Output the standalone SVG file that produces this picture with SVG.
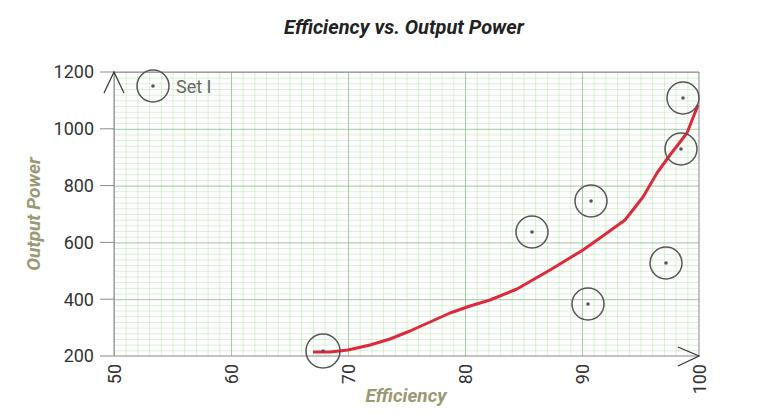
<svg xmlns="http://www.w3.org/2000/svg" width="768" height="420" viewBox="0 0 768 420">
<defs>
<pattern id="minor" x="114" y="72" width="11.7" height="5.68" patternUnits="userSpaceOnUse">
<path d="M0 0V5.68M0 0H11.7" stroke="#a9dc9c" stroke-width="0.9" fill="none"/>
</pattern>
<pattern id="major" x="114" y="72" width="117" height="56.8" patternUnits="userSpaceOnUse">
<path d="M0 0V56.8M0 0H117" stroke="#6fa878" stroke-width="1" fill="none"/>
</pattern>
</defs>
<style>
.t{font-family:Roboto,"Liberation Sans",sans-serif;font-size:18px;fill:#333}
.ax{font-family:Roboto,"Liberation Sans",sans-serif;font-size:19px;font-weight:bold;font-style:italic;fill:#9a9a72}
.pt{fill:none;stroke:#555;stroke-width:1.5}
.dot{fill:#555}
</style>
<rect width="768" height="420" fill="#fff"/>
<text x="404" y="34" text-anchor="middle" style="font-family:Roboto,'Liberation Sans',sans-serif;font-size:20px;font-weight:bold;font-style:italic;fill:#222">Efficiency vs. Output Power</text>
<g id="grid">
<rect x="114" y="72" width="585" height="284" fill="url(#minor)"/>
<rect x="114" y="72" width="585" height="284" fill="url(#major)"/>
<path d="M114 72H699V356M114 72V356H699" stroke="#888" stroke-width="1" fill="none"/>
<path d="M100 72H114M100 128.8H114M100 185.6H114M100 242.4H114M100 299.2H114M100 356H114" stroke="#888"/>
</g>
<g id="axes" class="t">
<text x="94" y="78" text-anchor="end">1200</text>
<text x="94" y="135" text-anchor="end">1000</text>
<text x="94" y="192" text-anchor="end">800</text>
<text x="94" y="249" text-anchor="end">600</text>
<text x="94" y="306" text-anchor="end">400</text>
<text x="94" y="362" text-anchor="end">200</text>
<text transform="translate(121,364) rotate(-90)" text-anchor="end">50</text>
<text transform="translate(238,364) rotate(-90)" text-anchor="end">60</text>
<text transform="translate(355,364) rotate(-90)" text-anchor="end">70</text>
<text transform="translate(472,364) rotate(-90)" text-anchor="end">80</text>
<text transform="translate(589,364) rotate(-90)" text-anchor="end">90</text>
<text transform="translate(706,364) rotate(-90)" text-anchor="end">100</text>
<path d="M104 93L114 72L124 93M678 347L699 356L678 366" stroke="#333" stroke-width="1.2" fill="none"/>
</g>
<text class="ax" x="406" y="402" text-anchor="middle">Efficiency</text>
<text class="ax" transform="translate(40,214) rotate(-90)" text-anchor="middle">Output Power</text>
<g id="legend">
<circle class="pt" cx="153" cy="86" r="16"/><circle class="dot" cx="153" cy="86" r="1.8"/>
<text class="t" x="176" y="93" style="fill:#666">Set I</text>
</g>
<g id="curve">
<path d="M313 352L330 352L348 350L370 345L390 339L410 331L430 322L450 313L470 306L490 300L517 289L550 270L583 250L600 238L625 220L643 197L657 173L670 155L687 133L698 105" fill="none" stroke="#e0283a" stroke-width="3" stroke-linejoin="round"/>
</g>
<g id="points">
<circle class="pt" cx="323" cy="351" r="17"/><circle class="dot" cx="323" cy="351" r="1.8"/>
<circle class="pt" cx="532" cy="232" r="16"/><circle class="dot" cx="532" cy="232" r="1.8"/>
<circle class="pt" cx="591" cy="201" r="16"/><circle class="dot" cx="591" cy="201" r="1.8"/>
<circle class="pt" cx="588" cy="304" r="16"/><circle class="dot" cx="588" cy="304" r="1.8"/>
<circle class="pt" cx="666" cy="263" r="16"/><circle class="dot" cx="666" cy="263" r="1.8"/>
<circle class="pt" cx="681" cy="149" r="16"/><circle class="dot" cx="681" cy="149" r="1.8"/>
<circle class="pt" cx="683" cy="98" r="16"/><circle class="dot" cx="683" cy="98" r="1.8"/>
</g>
</svg>
